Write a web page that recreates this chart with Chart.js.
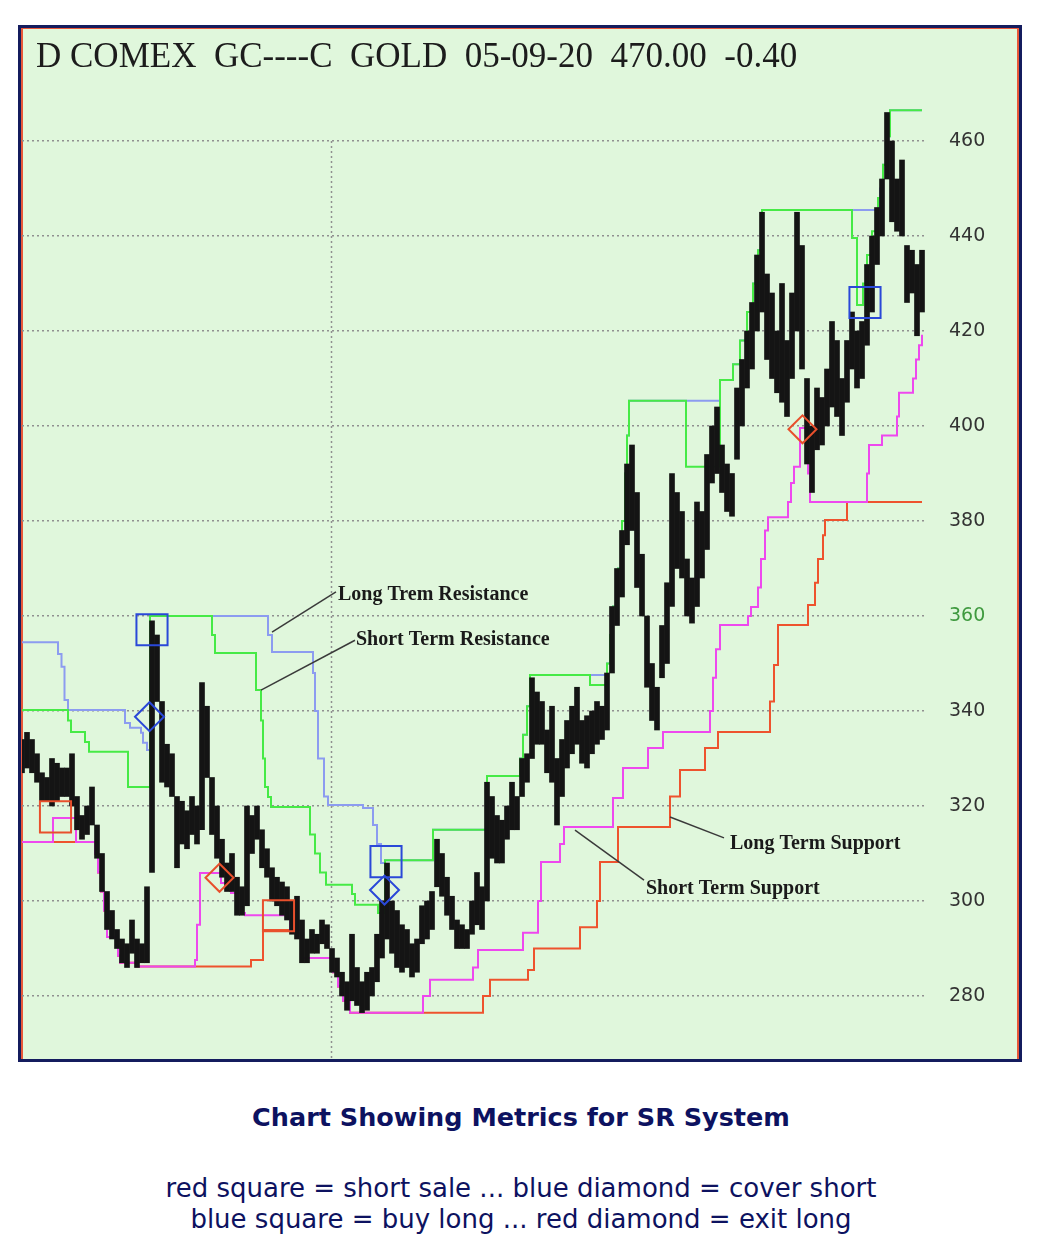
<!DOCTYPE html>
<html lang="en">
<head>
  <meta charset="UTF-8">
  <title>Chart Showing Metrics for SR System</title>
  <script src="https://cdn.jsdelivr.net/npm/chart.js"></script>
  <style>
    body { margin: 0; background: #fff; width: 1042px; height: 1252px; position: relative; overflow: hidden; }
    #frame { position: absolute; left: 18px; top: 25px; width: 998px; height: 1031px;
             border: 3px solid #141c5e; background: #e0f7dc; }
    #edge { position: absolute; left: 0; top: 0; right: 0; bottom: 0;
            border-left: 2px solid #e8583a; border-top: 1px solid #e8583a; border-right: 2px solid #e8583a; }
    #chart { position: absolute; left: 1px; top: 1px; }
    #head { position: absolute; left: 36px; top: 38px; font: 35px "Liberation Serif", serif;
            line-height: 1; color: #1c1c1c; white-space: pre; }
    .cap { position: absolute; left: 0; width: 1042px; text-align: center; color: #0d1260;
           font-family: "DejaVu Sans", sans-serif; line-height: 31px; }
    #cap1 { top: 1102px; font-size: 25.5px; font-weight: bold; }
    #cap2 { top: 1173px; font-size: 26px; }
  </style>
</head>
<body>
  <div id="frame">
    <div id="edge"></div>
    <canvas id="chart" width="995" height="1030" style="width:995px;height:1030px"></canvas>
  </div>
  <div id="head">D COMEX  GC----C  GOLD  05-09-20  470.00  -0.40</div>
  <div class="cap" id="cap1">Chart Showing Metrics for SR System</div>
  <div class="cap" id="cap2">red square = short sale ... blue diamond = cover short<br>blue square = buy long ... red diamond = exit long</div>

  <script>
    // daily gold bars (day 0 .. 180): high and low of each bar
    const dayHigh = [
      334, 335.5, 334, 331, 327, 326, 330, 329, 328, 328,
      331, 322, 318, 320, 324, 316, 310, 302, 298, 294,
      292, 291, 296, 292, 291, 303, 359, 356, 342, 333,
      331, 322, 321, 319, 322, 320, 346, 341, 326, 320,
      313, 308, 310, 305, 303, 320, 318, 320, 315, 311,
      307, 305, 304, 303, 300, 301, 296, 292, 294, 293,
      296, 295, 290, 288, 285, 283, 293, 286, 283, 285,
      286, 293, 300, 308, 300, 298, 295, 294, 291, 292,
      299, 300, 302, 313, 310, 305, 301, 296, 295, 294,
      300, 306, 303, 325, 322, 318, 317, 320, 325, 322,
      330, 331, 347, 344, 342, 336, 341, 330, 334, 338,
      341, 345, 338, 339, 340, 342, 341, 348, 362, 370,
      378, 392, 396, 386, 373, 360, 350, 345, 358, 367,
      390, 386, 382, 372, 368, 384, 382, 394, 400, 404,
      396, 392, 390, 408, 414, 420, 426, 436, 445, 432,
      428, 420, 430, 418, 428, 445, 438, 410, 400, 408,
      406, 412, 422, 418, 410, 418, 424, 420, 422, 434,
      440, 446, 452, 466, 460, 452, 456, 438, 437, 434, 437
    ];
    const dayLow = [
      327, 328, 327, 325, 321, 321, 320, 321, 322, 322,
      320, 315, 313, 314, 316, 309, 302, 294, 292, 290,
      287, 286, 289, 286, 287, 287, 306, 342, 325, 324,
      322, 307, 312, 311, 314, 312, 315, 326, 314, 309,
      305, 302, 302, 297, 297, 299, 310, 313, 307, 305,
      300, 299, 297, 296, 293, 292, 287, 287, 289, 289,
      291, 290, 285, 284, 280, 277, 279, 278, 276.5, 277,
      280, 283, 288, 292, 289, 286, 285, 286, 284, 285,
      291, 292, 294, 303, 301, 297, 294, 290, 290, 290,
      293, 295, 294, 300, 309, 308, 308, 313, 315, 315,
      322, 325, 330, 333, 333, 327, 325, 316, 322, 328,
      331, 333, 329, 328, 331, 333, 334, 336, 348, 358,
      364, 375, 378, 366, 360, 345, 338, 336, 347, 350,
      362, 370, 368, 360, 358.5, 362, 368, 374, 388, 390,
      386, 382, 381, 393, 400, 408, 412, 420, 424, 414,
      410, 407, 405, 402, 410, 420, 412, 392, 386, 395,
      396, 400, 404, 402, 398, 405, 412, 408, 410, 417,
      424, 434, 440, 452, 443, 441, 440, 426, 428, 419, 424
    ];

    // step levels: [day where the level starts, level]
    const longResistance = [
      [0, 354.5], [7.2, 352], [7.9, 349.3], [8.5, 342.3], [9.2, 340.2], [20.6, 337.5], [21.6, 336.5],
      [23.8, 335.4], [24.2, 333.3], [25, 331.8], [25.6, 360], [49.2, 356], [50, 352.4], [58.2, 348],
      [58.6, 340], [59.2, 330], [60.4, 322], [61.2, 320.2], [68.2, 319.6], [70.2, 316], [71, 312],
      [71.8, 308], [72.6, 308.6], [82.2, 315], [93, 326.3], [99.6, 330], [100.2, 335], [101, 341],
      [101.6, 347.6], [117, 350], [117.6, 356], [118.2, 362], [119.2, 370], [120, 380], [120.6, 390],
      [121, 398], [121.4, 405.3], [139.6, 409.7], [142.2, 413], [143.6, 418], [145, 424], [146.2, 430],
      [147.2, 437], [148, 445.5], [171.6, 450], [172.2, 455], [173, 461], [173.6, 466.5], [180, 466.5]
    ];
    const shortResistance = [
      [0, 340.2], [9.2, 338], [9.8, 335.6], [12.6, 333.5], [13.4, 331.4], [21.2, 324], [25.6, 360],
      [38, 356], [38.6, 352.2], [46.8, 344.4], [47.8, 338], [48.2, 330], [48.6, 324], [49.2, 321.9],
      [49.8, 319.8], [57.6, 314], [58.6, 310], [59.6, 306], [60.8, 303.4], [66, 301.5], [66.6, 299.2],
      [71.2, 297.5], [72.6, 308.6], [82.2, 315], [93, 326.3], [99.6, 330], [100.2, 335], [101, 341],
      [101.6, 347.6], [113.6, 345.5], [117, 350], [117.6, 356], [118.2, 362], [119.2, 370], [120, 380],
      [120.6, 390], [121, 398], [121.4, 405.3], [132.8, 391.4], [139.6, 409.7], [142.2, 413],
      [143.6, 418], [145, 424], [146.2, 430], [147.2, 437], [148, 445.5], [166, 439.6], [167, 425.5],
      [168.2, 430], [169, 436], [170, 441], [171.2, 448], [172.2, 455], [173, 461], [173.6, 466.5],
      [180, 466.5]
    ];
    const shortSupport = [
      [0, 312.4], [6.2, 317.5], [10.8, 312.4], [14.6, 310], [15.2, 306], [15.8, 302], [16.4, 298],
      [17, 292.4], [19.2, 288.5], [19.6, 287], [22.8, 286.2], [34.6, 287.6], [35, 295], [35.6, 305.9],
      [39.8, 303.8], [41.8, 301.7], [43.8, 297.5], [44.6, 297], [53.6, 293.9], [56.2, 288], [62.2, 285],
      [63.2, 282], [64.2, 279], [65.6, 276.5], [80.2, 280], [81.6, 283.4], [90.2, 286], [91.2, 289.7],
      [100.2, 293.3], [103.2, 300], [103.8, 308.2], [107.6, 312], [108.4, 315.6], [118.2, 321.7],
      [120.2, 328], [125.2, 332.2], [128.2, 335.6], [137.6, 340], [138.2, 347], [138.8, 353],
      [139.6, 358.1], [145.2, 360], [145.8, 361.9], [147.2, 366], [147.8, 372], [148.6, 378],
      [149.2, 380.8], [153.2, 384], [153.8, 388], [154.4, 391.4], [155.6, 399.6], [156.8, 396],
      [157.2, 390], [157.6, 384], [169, 390], [169.4, 396], [172, 398], [175, 402], [175.4, 407],
      [178.2, 410], [178.8, 414], [179.4, 417], [180, 419.2]
    ];
    const longSupport = [
      [0, 312.4], [14.6, 310], [15.2, 306], [15.8, 302], [16.4, 298], [17, 292.4], [19.2, 288.5],
      [19.6, 287], [22.8, 286.2], [45.8, 287.6], [48.2, 293.9], [56.2, 288], [62.2, 285], [63.2, 282],
      [64.2, 279], [65.6, 276.5], [92.2, 280], [93.6, 283.4], [101.2, 285.5], [102.4, 290],
      [111.6, 294.5], [115, 300], [115.6, 308.2], [119.2, 315.6], [129.6, 322], [131.6, 327.6],
      [136.6, 332.2], [139.2, 335.6], [149.6, 342], [150.4, 349.7], [151.2, 358.1], [157.2, 362.3],
      [158.6, 367], [159.2, 372], [160.2, 377], [160.6, 380.2], [165, 384], [180, 384]
    ];

    // trade signals: [day, price]
    const shortSale = [[6.7, 317.7], [51.3, 296.9]];
    const coverShort = [[25.5, 338.8], [72.5, 302.3]];
    const buyLong = [[26, 357.1], [72.8, 308.3], [168.6, 426]];
    const exitLong = [[39.5, 304.9], [156.1, 399.3]];

    const yTicks = [280, 300, 320, 340, 360, 380, 400, 420, 440, 460];
    const dayGrid = [61.8];

    // callout labels, anchored in day/price units
    const notes = [
      { text: 'Long Trem Resistance', from: [50, 356.6], to: [62.8, 365.1], at: [63.2, 364.4] },
      { text: 'Short Term Resistance', from: [47.8, 344.4], to: [66.6, 354.9], at: [66.8, 354.9] },
      { text: 'Long Term Support', from: [129.6, 317.7], to: [140.4, 313.3], at: [141.6, 312] },
      { text: 'Short Term Support', from: [110.6, 314.9], to: [124.4, 304.4], at: [124.8, 302.5] }
    ];

    const toXY = pts => pts.map(p => ({ x: p[0], y: p[1] }));

    const stepLine = (label, pts, color) => ({
      label, data: toXY(pts), stepped: true, borderColor: color, borderWidth: 2,
      pointRadius: 0, fill: false
    });

    const signal = (label, pts, style, color, radius) => ({
      label, data: toXY(pts), showLine: false, pointStyle: style, pointRadius: radius,
      pointBorderColor: color, pointBackgroundColor: 'rgba(0,0,0,0)', pointBorderWidth: 2
    });

    const notesPlugin = {
      id: 'notes',
      beforeDatasetsDraw(chart) {
        const { ctx, chartArea, scales: { x, y } } = chart;
        ctx.save();
        ctx.strokeStyle = '#909090';
        ctx.lineWidth = 1.5;
        ctx.setLineDash([2, 3]);
        dayGrid.forEach(d => {
          const px = Math.round(x.getPixelForValue(d)) + 0.5;
          ctx.beginPath();
          ctx.moveTo(px, y.getPixelForValue(460));
          ctx.lineTo(px, chartArea.bottom);
          ctx.stroke();
        });
        ctx.restore();
      },
      afterDatasetsDraw(chart) {
        const { ctx, scales: { x, y } } = chart;
        ctx.save();
        notes.forEach(n => {
          ctx.strokeStyle = '#3a3a3a';
          ctx.lineWidth = 1.5;
          ctx.beginPath();
          ctx.moveTo(x.getPixelForValue(n.from[0]), y.getPixelForValue(n.from[1]));
          ctx.lineTo(x.getPixelForValue(n.to[0]), y.getPixelForValue(n.to[1]));
          ctx.stroke();
          ctx.fillStyle = '#1a1a1a';
          ctx.font = 'bold 20px "Liberation Serif", serif';
          ctx.textAlign = 'left';
          ctx.textBaseline = 'middle';
          ctx.fillText(n.text, x.getPixelForValue(n.at[0]), y.getPixelForValue(n.at[1]));
        });
        ctx.restore();
      }
    };

    new Chart(document.getElementById('chart'), {
      type: 'line',
      data: {
        datasets: [
          signal('short sale', shortSale, 'rect', '#e8502c', 22),
          signal('cover short', coverShort, 'rectRot', '#2a48d8', 14.5),
          signal('buy long', buyLong, 'rect', '#2a48d8', 22),
          signal('exit long', exitLong, 'rectRot', '#e8502c', 14),
          {
            type: 'bar', label: 'Gold',
            data: dayHigh.map((h, i) => ({ x: i, y: [dayLow[i], h] })),
            backgroundColor: '#141414', borderWidth: 0, barThickness: 5
          },
          stepLine('Short Term Resistance', shortResistance, '#46ea46'),
          stepLine('Long Term Resistance', longResistance, '#8c9cf0'),
          stepLine('Short Term Support', shortSupport, '#ee48ee'),
          stepLine('Long Term Support', longSupport, '#ee532e')
        ]
      },
      options: {
        responsive: false,
        animation: false,
        layout: { padding: 0, autoPadding: false },
        plugins: { legend: { display: false }, tooltip: { enabled: false }, title: { display: false } },
        scales: {
          x: { type: 'linear', min: 0, max: 180.6, display: false, offset: false, grid: { offset: false } },
          y: {
            position: 'right',
            min: 266.737,
            max: 483.579,
            beginAtZero: false,
            afterBuildTicks: s => { s.ticks = yTicks.map(v => ({ value: v })); },
            afterFit: s => {
              s.width = 92;
              s.paddingTop = 0; s.paddingBottom = 0; s.paddingLeft = 0; s.paddingRight = 0;
            },
            grid: { color: '#909090', lineWidth: 1.5, drawTicks: false },
            border: { display: false, dash: [2, 3] },
            ticks: {
              padding: 24,
              color: c => (c.tick && c.tick.value === 360 ? '#3f9a3f' : '#333'),
              font: { family: 'DejaVu Sans', size: 19 }
            }
          }
        }
      },
      plugins: [notesPlugin]
    });
  </script>
</body>
</html>
